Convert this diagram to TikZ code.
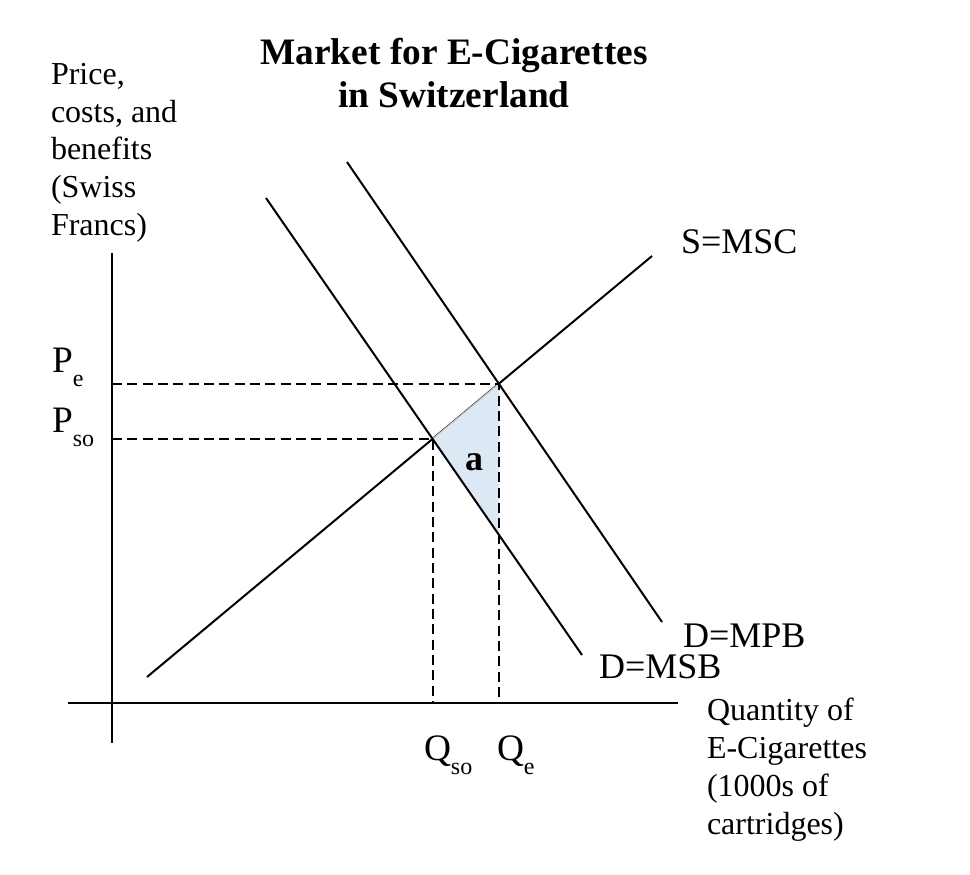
\documentclass[tikz,border=0pt]{standalone}
\usepackage{fontspec}
\setmainfont{Liberation Serif}

\definecolor{areaa}{RGB}{220,232,244}
\newcommand{\bajo}[1]{\raisebox{-10.5pt}{\fontsize{18}{18}\selectfont #1}}

\tikzset{
  etiqueta/.style={font=\fontsize{27}{30}\selectfont, inner sep=0pt},
  precio/.style={font=\fontsize{28}{30}\selectfont, inner sep=0pt, anchor=base west},
  texto/.style={font=\fontsize{24}{28.4}\selectfont, align=left, inner sep=0pt},
  guia/.style={dash pattern=on 7.5pt off 4pt},
}

\begin{document}
\begin{tikzpicture}[x=0.75pt, y=-0.75pt, line width=1.5pt]
  \useasboundingbox (0,0) rectangle (970,874);

  % Puntos
  \coordinate (y1) at (112,253);
  \coordinate (y2) at (112,743);
  \coordinate (x1) at (68,703);
  \coordinate (x2) at (678,703);
  \coordinate (s1) at (147,677);
  \coordinate (s2) at (652,256);
  \coordinate (b1) at (266,198);
  \coordinate (b2) at (582,655);
  \coordinate (p1) at (347,162);
  \coordinate (p2) at (662,622);
  \coordinate (eso) at (intersection of s1--s2 and b1--b2);
  \coordinate (ee) at (intersection of s1--s2 and p1--p2);
  \coordinate (qso) at (eso |- x1);
  \coordinate (qe) at (ee |- x1);
  \coordinate (eb) at (intersection of ee--qe and b1--b2);

  % Ejes
  \draw (y1) -- (y2);
  \draw (x1) -- (x2);

  % Curvas
  \draw (s1) -- (s2);
  \fill[areaa] (eso) -- (ee) -- (eb) -- cycle;
  \draw[gray!45, line width=1pt] (eso) -- (ee);
  \draw (b1) -- (b2);
  \draw (p1) -- (p2);

  \draw[guia] (ee -| y1) -- (ee) -- (qe);
  \draw[guia] (eso -| y1) -- (eso) -- (qso);

  % Textos
  \node[font=\bfseries\fontsize{28}{32}\selectfont, align=center, inner sep=0pt] (titulo) at (454,73) {Market for E-Cigarettes\\in Switzerland};
  \node[texto, anchor=north west] (ejey) at (50,62) {Price,\\costs, and\\benefits\\(Swiss\\Francs)};
  \node[texto, anchor=north west] (ejex) at (706,697) {Quantity of\\E-Cigarettes\\(1000s of\\cartridges)};
  \node[etiqueta, anchor=west] (msc) at (680,242) {S=MSC};
  \node[etiqueta, anchor=west] (mpb) at (682,636) {D=MPB};
  \node[etiqueta, anchor=west] (msb) at (598,667) {D=MSB};
  \node[etiqueta, font=\bfseries\fontsize{27}{30}\selectfont] (a) at (474,462) {a};
  \node[precio] (pe) at (51,372) {P\bajo{e}};
  \node[precio] (pso) at (51,432) {P\bajo{so}};
  \node[precio] (qsol) at (423,760) {Q\bajo{so}};
  \node[precio] (qel) at (496,760) {Q\bajo{e}};
\end{tikzpicture}
\end{document}
